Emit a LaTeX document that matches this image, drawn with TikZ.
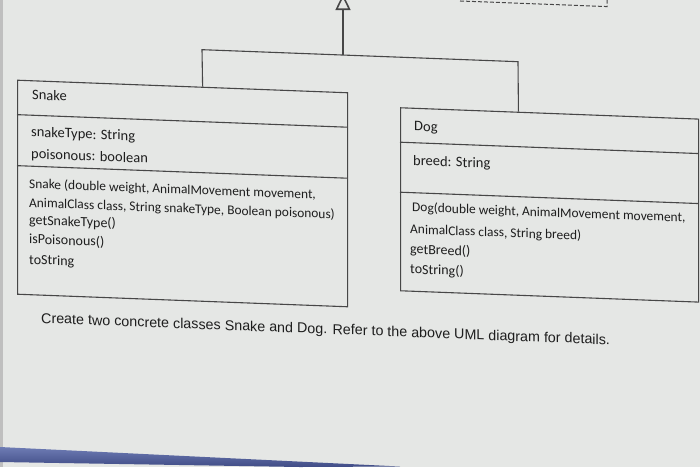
\documentclass[tikz,border=0pt]{standalone}
\usepackage{fontspec}
\setmainfont{Carlito}
\newfontfamily\capfont{Liberation Sans}
\usetikzlibrary{arrows.meta,calc}
\definecolor{bg}{HTML}{E5E7E5}
\definecolor{ln}{HTML}{474747}
\definecolor{txt}{HTML}{1E1E1E}
\definecolor{stripA}{HTML}{6E7CB4}
\definecolor{stripB}{HTML}{404C86}
\tikzset{
  umlbox/.style={draw=ln, line width=1.1pt, fill=none, inner sep=0pt, anchor=north west},
  divider/.style={draw=ln, line width=1.1pt},
  conn/.style={draw=ln, line width=1.1pt},
  big/.style={anchor=base west, inner sep=0pt, text=txt, font=\fontsize{14.5}{16}\selectfont},
  med/.style={anchor=base west, inner sep=0pt, text=txt, font=\fontsize{14}{16}\selectfont},
  sml/.style={anchor=base west, inner sep=0pt, text=txt, font=\fontsize{13.4}{15}\selectfont},
  captext/.style={anchor=base west, inner sep=0pt, text=txt, font=\capfont\fontsize{14.3}{16}\selectfont},
  dashln/.style={draw=ln, line width=1pt, dash pattern=on 4pt off 2pt}
}
\begin{document}
\begin{tikzpicture}[x=1pt,y=-1pt]
\fill[bg] (0,0) rectangle (700,467);
\useasboundingbox (0,0) rectangle (700,467);
\fill[black!25] (0,0) rectangle (3,467);
\shade[top color=stripA, bottom color=stripB] (0,447) -- (400,466.5) -- (300,467) -- (0,462) -- cycle;
\begin{scope}[yslant=-0.038, transform shape]
  % Snake class
  \node[umlbox, minimum width=330pt, minimum height=214pt] (snake) at (17,79) {};
  \draw[divider] (17,114) -- (347,114);
  \draw[divider] (17,165) -- (347,165);
  \node[big] (sname) at (32,98.5) {Snake};
  \node[big] (sa1) at (31,135.5) {snakeType: String};
  \node[big] (sa2) at (31,157.5) {poisonous: boolean};
  \node[sml] (sm1) at (29,187) {Snake (double weight, AnimalMovement movement,};
  \node[sml] (sm2) at (29,206) {AnimalClass class, String snakeType, Boolean poisonous)};
  \node[med] (sm3) at (29,223.5) {getSnakeType()};
  \node[med] (sm4) at (29,242.5) {isPoisonous()};
  \node[med] (sm5) at (29,263) {toString};
  % Dog class
  \node[umlbox, minimum width=298pt, minimum height=183pt] (dog) at (400,92) {};
  \draw[divider] (400,127) -- (698,127);
  \draw[divider] (400,177) -- (698,177);
  \node[big] (dname) at (414,115) {Dog};
  \node[big] (da1) at (413,149.5) {breed: String};
  \node[sml] (dm1) at (412,196) {Dog(double weight, AnimalMovement movement,};
  \node[sml] (dm2) at (410,218) {AnimalClass class, String breed)};
  \node[med] (dm3) at (410,238) {getBreed()};
  \node[med] (dm4) at (410,258) {toString()};
  % generalization connector
  \coordinate (jl) at (202,42);
  \coordinate (jr) at (518,42);
  \coordinate (hub) at (343,42);
  \coordinate (top) at (343,-19);
  \draw[conn] ($(snake.north west)!0.5606!(snake.north east)$) -- (jl) -- (jr) -- ($(dog.north west)!0.396!(dog.north east)$);
  \draw[conn, -{Triangle[open, length=16pt, width=15pt, line width=1.6pt]}] (hub) -- (top);
  % dashed box fragment
  \coordinate (d1) at (460,-16.5);
  \coordinate (d2) at (607,-16.5);
  \coordinate (d3) at (607,-26);
  \draw[dashln] (d1) -- (d2) -- (d3);
  % caption
  \node[captext] (caption) at (41,321.5) {Create two concrete classes Snake and Dog. Refer to the above UML diagram for details.};
\end{scope}
\end{tikzpicture}
\end{document}
